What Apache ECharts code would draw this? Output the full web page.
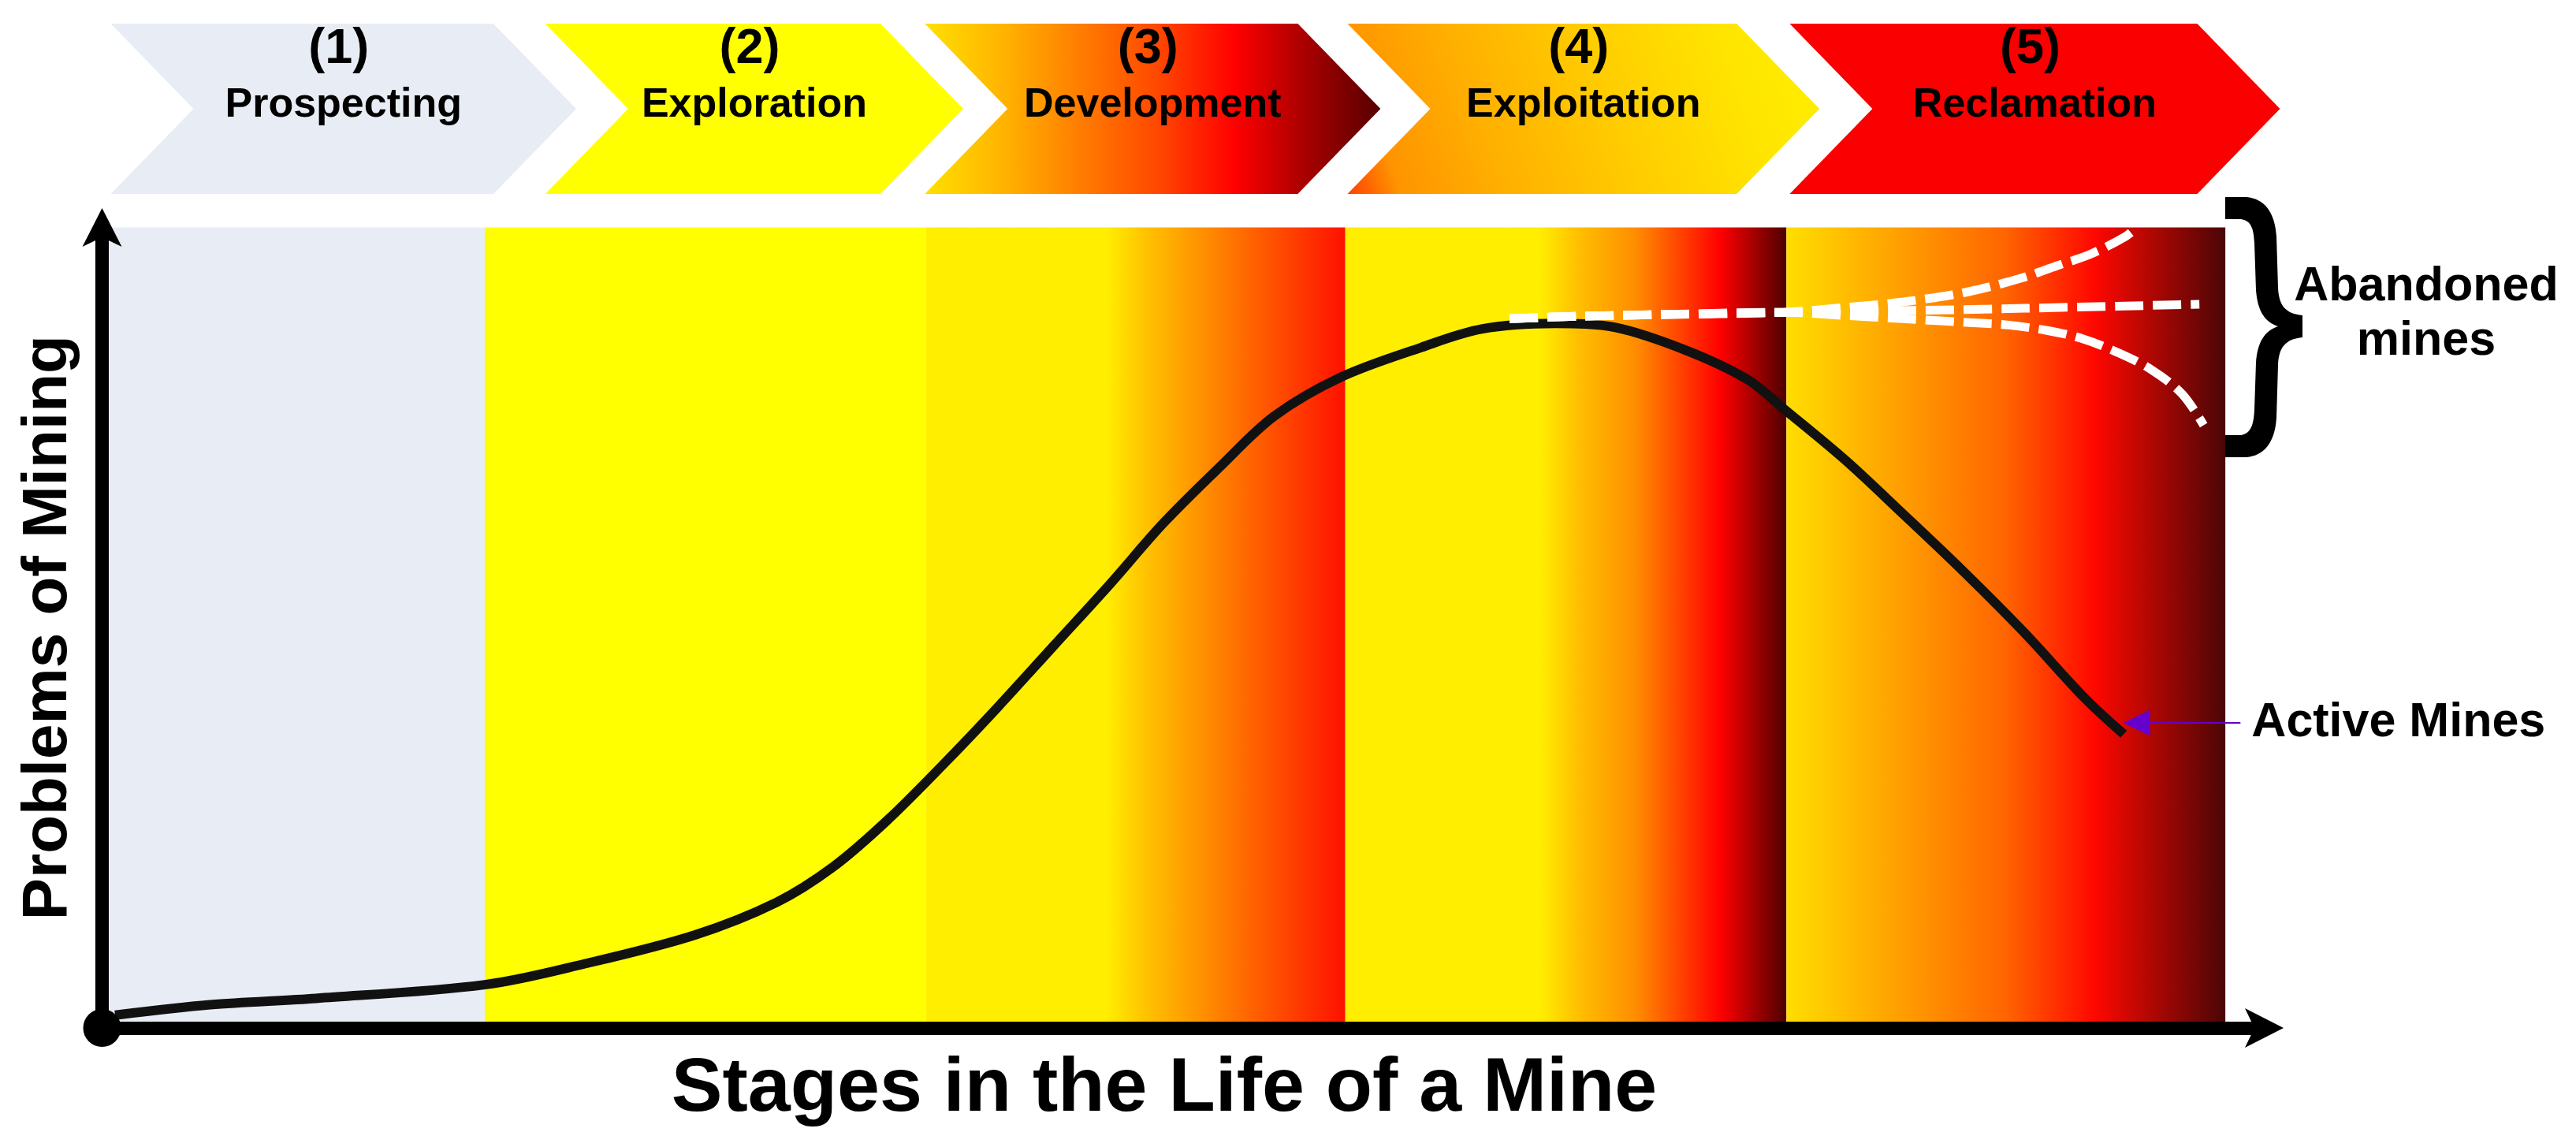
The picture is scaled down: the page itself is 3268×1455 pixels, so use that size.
<!DOCTYPE html>
<html>
<head>
<meta charset="utf-8">
<title>Stages in the Life of a Mine</title>
<script src="https://cdn.jsdelivr.net/npm/echarts@6/dist/echarts.min.js"></script>
<style>
    html, body { margin: 0; padding: 0; background: #fff; }
    #myChart { width: 3268px; height: 1455px; }
</style>
</head>
<body>
<div id="myChart"></div>
<script>
    // stages of a mine, x runs 0-100 along the life of the mine
    var stageNums = ['(1)', '(2)', '(3)', '(4)', '(5)'];
    var stageNames = ['Prospecting', 'Exploration', 'Development', 'Exploitation', 'Reclamation'];
    var bandEdges = [0, 17.7, 38.1, 57.5, 77.9, 98.2];
    // header arrows: left edge and right edge (before the point)
    var arrowLeft = [0.4, 20.5, 38.05, 57.6, 78.05];
    var arrowRight = [18.1, 36.0, 55.3, 75.6, 96.9];

    // problems of mining, active mines
    var activeMines = [
        [0.6, 1.6], [5.0, 2.9], [9.9, 3.7], [17.7, 5.4], [22.3, 8.0], [27.4, 11.6],
        [31.2, 15.7], [33.8, 20.1], [36.3, 25.9], [38.9, 32.9], [41.4, 40.0], [44.0, 47.7],
        [46.6, 55.4], [49.1, 63.1], [51.7, 70.1], [54.2, 76.4], [57.3, 81.3], [61.0, 85.0],
        [63.8, 87.3], [67.2, 88.0], [70.0, 87.5], [73.3, 84.6], [76.1, 81.0], [77.8, 77.3],
        [80.6, 71.0], [83.3, 64.2], [86.1, 57.0], [88.9, 49.4], [91.7, 41.2], [93.5, 36.7]
    ];
    // abandoned mines: shared start, then three branches
    var abandonedStart = [[65.1, 88.6], [68.2, 88.9], [71.9, 89.1], [77.8, 89.4]];
    var abandonedUp = [[80.6, 90.0], [83.3, 90.7], [86.2, 91.9], [88.8, 93.7], [90.4, 95.2], [92.0, 96.7], [93.6, 98.9], [94.1, 100]];
    var abandonedFlat = [[83.3, 89.6], [88.9, 89.9], [97.0, 90.4]];
    var abandonedDown = [[80.6, 89.0], [83.3, 88.6], [86.4, 88.1], [88.2, 87.8], [90.0, 87.1], [91.6, 86.1], [93.2, 84.4], [94.8, 82.2], [96.2, 79.2], [97.2, 75.3]];
    // arrow pointing at the end of the active mines curve
    var activeArrow = [[98.9, 38.1], [94.1, 38.1]];

    var FONT = '"Liberation Sans", Arial, sans-serif';

    function grad(dir, stops) {
        var cs = stops.map(function (s) { return {offset: s[0], color: s[1]}; });
        if (dir == 'diag') return new echarts.graphic.LinearGradient(0, 1, 1, 0, cs);
        return new echarts.graphic.LinearGradient(0, 0, 1, 0, cs);
    }

    var bandFills = [
        '#E8EDF5',
        '#FFFF00',
        grad('h', [[0, '#FFEE00'], [0.43, '#FFEE00'], [0.52, '#FFC400'], [0.70, '#FF8000'], [0.86, '#FF4400'], [1, '#FF1000']]),
        grad('h', [[0, '#FFEE00'], [0.44, '#FFEE00'], [0.53, '#FFBE00'], [0.66, '#FF8C00'], [0.85, '#FF0000'], [1, '#4E0000']]),
        grad('h', [[0, '#FFDE00'], [0.22, '#FFA800'], [0.5, '#FF6400'], [0.7, '#FF0800'], [1, '#4A0606']])
    ];
    var arrowFills = [
        '#E8EDF5',
        '#FFFF00',
        grad('h', [[0, '#FFE000'], [0.17, '#FFB400'], [0.35, '#FF7A00'], [0.51, '#FF4800'], [0.68, '#FF0000'], [0.82, '#B00000'], [1, '#560000']]),
        grad('diag', [[0, '#FF4000'], [0.1, '#FF9400'], [0.3, '#FFB000'], [0.55, '#FFCC00'], [0.8, '#FFE400'], [1, '#FFF000']]),
        '#FA0000'
    ];

    var bandData = [];
    for (var i = 0; i < 5; i++) bandData.push([bandEdges[i], bandEdges[i + 1]]);
    var arrowData = [];
    for (var j = 0; j < 5; j++) arrowData.push([arrowLeft[j], arrowRight[j]]);

    var arrowSymbol = 'path://M25,0 L50,49 L25,37 L0,49 Z';

    // curly brace beside the abandoned mines branches
    echarts.graphic.registerShape('brace', echarts.graphic.extendShape({
        shape: {},
        buildPath: function (ctx) {
            ctx.moveTo(2823, 250);
            ctx.lineTo(2850, 250);
            ctx.bezierCurveTo(2872, 252, 2886, 268, 2888, 300);
            ctx.lineTo(2890, 365);
            ctx.bezierCurveTo(2891, 388, 2900, 398, 2921, 400);
            ctx.lineTo(2921, 428);
            ctx.bezierCurveTo(2900, 430, 2891, 440, 2890, 463);
            ctx.lineTo(2888, 530);
            ctx.bezierCurveTo(2886, 562, 2872, 578, 2850, 580);
            ctx.lineTo(2823, 580);
            ctx.lineTo(2823, 552);
            ctx.lineTo(2843, 552);
            ctx.bezierCurveTo(2855, 550, 2859, 540, 2860, 520);
            ctx.lineTo(2862, 460);
            ctx.bezierCurveTo(2864, 435, 2872, 420, 2890, 414);
            ctx.bezierCurveTo(2872, 408, 2864, 393, 2862, 368);
            ctx.lineTo(2860, 308);
            ctx.bezierCurveTo(2859, 288, 2855, 280, 2843, 278);
            ctx.lineTo(2823, 278);
            ctx.closePath();
        }
    }));

    var options = {
        animation: false,
        backgroundColor: '#fff',
        grid: [
            {left: 129.5, right: 395.5, top: 288.5, bottom: 151, outerBoundsMode: 'none'},
            {left: 129.5, right: 395.5, top: 30, height: 216, outerBoundsMode: 'none'}
        ],
        xAxis: [
            {
                type: 'value', min: 0, max: 100, z: 10,
                name: 'Stages in the Life of a Mine', nameLocation: 'middle', nameGap: 30,
                nameTextStyle: {fontSize: 97, fontWeight: 'bold', fontFamily: FONT, color: '#000', padding: [0, 48, 0, 0]},
                axisLine: {show: true, lineStyle: {color: '#000', width: 17}, symbol: ['none', arrowSymbol], symbolSize: [50, 49]},
                axisTick: {show: false}, axisLabel: {show: false}, splitLine: {show: false}
            },
            {type: 'value', gridIndex: 1, min: 0, max: 100, show: false}
        ],
        yAxis: [
            {
                type: 'value', min: 0, max: 100, z: 10,
                name: 'Problems of Mining', nameLocation: 'middle', nameGap: 28, nameRotate: 90,
                nameTextStyle: {fontSize: 80, fontWeight: 'bold', fontFamily: FONT, color: '#000'},
                axisLine: {show: true, lineStyle: {color: '#000', width: 17}, symbol: ['none', arrowSymbol], symbolSize: [50, 49]},
                axisTick: {show: false}, axisLabel: {show: false}, splitLine: {show: false}
            },
            {type: 'value', gridIndex: 1, min: 0, max: 1, show: false}
        ],
        graphic: [
            {type: 'brace', z: 30, silent: true, style: {fill: '#000'}},
            {
                type: 'text', z: 30, x: 3078, y: 399,
                style: {text: 'Abandoned\nmines', fill: '#000', font: 'bold 61px ' + FONT, lineHeight: 69, align: 'center', verticalAlign: 'middle'}
            }
        ],
        series: [
            {
                type: 'custom', name: 'bands', z: 1, silent: true,
                xAxisIndex: 0, yAxisIndex: 0,
                data: bandData,
                renderItem: function (params, api) {
                    var p0 = api.coord([api.value(0), 100]);
                    var p1 = api.coord([api.value(1), 0]);
                    return {
                        type: 'rect',
                        shape: {x: p0[0], y: p0[1], width: p1[0] - p0[0], height: p1[1] - p0[1]},
                        style: {fill: bandFills[params.dataIndex]}
                    };
                }
            },
            {
                type: 'custom', name: 'stages', z: 5, silent: true, clip: false,
                xAxisIndex: 1, yAxisIndex: 1,
                data: arrowData,
                renderItem: function (params, api) {
                    var k = params.dataIndex;
                    var tl = api.coord([api.value(0), 1]);
                    var br = api.coord([api.value(1), 0]);
                    var tip = 105;
                    var mid = (tl[1] + br[1]) / 2;
                    var cx = (tl[0] + br[0] + tip) / 2;
                    return {
                        type: 'group',
                        children: [
                            {
                                type: 'polygon',
                                shape: {points: [[tl[0], tl[1]], [br[0], tl[1]], [br[0] + tip, mid], [br[0], br[1]], [tl[0], br[1]], [tl[0] + tip, mid]]},
                                style: {fill: arrowFills[k]}
                            },
                            {
                                type: 'text', x: cx - 6, y: api.coord([0, 0.85])[1],
                                style: {text: stageNums[k], fill: '#000', font: 'bold 63px ' + FONT, align: 'center', verticalAlign: 'middle'}
                            },
                            {
                                type: 'text', x: cx, y: api.coord([0, 0.518])[1],
                                style: {text: stageNames[k], fill: '#000', font: 'bold 52px ' + FONT, align: 'center', verticalAlign: 'middle'}
                            }
                        ]
                    };
                }
            },
            {
                type: 'line', name: 'Active Mines', z: 12, silent: true,
                data: activeMines, smooth: 0.33, showSymbol: false,
                lineStyle: {color: '#111', width: 12, cap: 'butt'},
                markLine: {
                    silent: true, animation: false,
                    symbol: ['none', 'triangle'], symbolSize: [33, 34],
                    lineStyle: {color: '#6600CC', width: 2, type: 'solid'},
                    itemStyle: {color: '#6600CC'},
                    label: {
                        show: true, position: 'start', distance: 14, formatter: 'Active Mines',
                        color: '#000', fontSize: 61, fontWeight: 'bold', fontFamily: FONT
                    },
                    data: [[{coord: activeArrow[0]}, {coord: activeArrow[1]}]]
                }
            },
            {
                type: 'line', name: 'Abandoned up', z: 13, silent: true,
                data: abandonedStart.concat(abandonedUp), smooth: 0.33, showSymbol: false,
                lineStyle: {color: '#fff', width: 11, type: [36, 12], cap: 'butt'}
            },
            {
                type: 'line', name: 'Abandoned flat', z: 13, silent: true,
                data: abandonedStart.concat(abandonedFlat), smooth: 0.33, showSymbol: false,
                lineStyle: {color: '#fff', width: 11, type: [36, 12], cap: 'butt'}
            },
            {
                type: 'line', name: 'Abandoned down', z: 13, silent: true,
                data: abandonedStart.concat(abandonedDown), smooth: 0.33, showSymbol: false,
                lineStyle: {color: '#fff', width: 11, type: [36, 12], cap: 'butt'}
            },
            {
                type: 'scatter', name: 'origin', z: 20, silent: true, clip: false,
                data: [[0, 0]], symbolSize: 48,
                itemStyle: {color: '#000', opacity: 1}
            }
        ]
    };

    var myChart = echarts.init(document.getElementById('myChart'));
    myChart.setOption(options);
</script>
</body>
</html>
